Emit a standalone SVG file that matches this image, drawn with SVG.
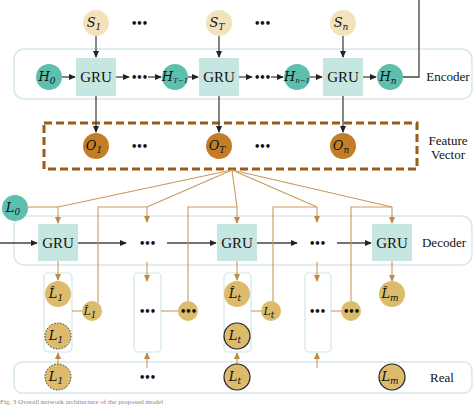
<svg xmlns="http://www.w3.org/2000/svg" width="474" height="406" viewBox="0 0 474 406">
<defs>
<marker id="ag" viewBox="0 0 8 8" refX="7" refY="4" markerWidth="7" markerHeight="7" markerUnits="userSpaceOnUse" orient="auto"><path d="M0,0.5 L8,4 L0,7.5 z" fill="#222"/></marker>
<marker id="ao" viewBox="0 0 8 8" refX="7" refY="4" markerWidth="7" markerHeight="7" markerUnits="userSpaceOnUse" orient="auto"><path d="M0,0.5 L8,4 L0,7.5 z" fill="#c08a45"/></marker>
</defs>
<style>
.panel{fill:none;stroke:#d6e9ea;stroke-width:1.5}
.col{fill:none;stroke:#cfe6e8;stroke-width:1.2}
.gru{fill:#c6e7e1}
.gt{font-family:"Liberation Serif",serif;font-size:15px;fill:#111;text-anchor:middle}
.lab{font-family:"Liberation Serif",serif;font-size:13px;fill:#111;text-anchor:middle}
.m{font-family:"DejaVu Serif",serif;font-style:italic;font-size:13px;fill:#111;text-anchor:middle}
.ms{font-family:"DejaVu Serif",serif;font-style:italic;font-size:11px;fill:#111;text-anchor:middle}
.sub{font-size:9px}
.dots{font-family:"DejaVu Sans",sans-serif;font-size:10px;font-weight:bold;fill:#111;text-anchor:middle;letter-spacing:-1px}
.s{fill:#f2e3bd}
.h{fill:#5dbfae}
.o{fill:#c27d26}
.l{fill:#dcbb6c}
.g{stroke:#444;stroke-width:1.3;fill:none}
.or{stroke:#c9995a;stroke-width:1.1;fill:none}
</style>
<rect width="474" height="406" fill="#fff"/>

<!-- panels -->
<g id="encoder-panel"><rect class="panel" x="14" y="49" width="458" height="50" rx="10"/><text class="lab" x="448" y="81">Encoder</text></g>
<g id="decoder-panel"><rect class="panel" x="14" y="216" width="458" height="49" rx="10"/><text class="lab" x="444" y="247">Decoder</text></g>
<g id="real-panel"><rect class="panel" x="14" y="362" width="458" height="31" rx="8"/><text class="lab" x="442" y="382">Real</text></g>
<g id="feature-vector"><rect x="44" y="123" width="373" height="46" fill="none" stroke="#9b5a16" stroke-width="3" stroke-dasharray="8,4"/><text class="lab" x="448" y="145">Feature</text><text class="lab" x="448" y="159">Vector</text></g>

<!-- columns -->
<g id="col1"><rect class="col" x="44" y="273" width="28" height="79" rx="4"/></g>
<g id="col2"><rect class="col" x="134" y="273" width="27" height="79" rx="4"/></g>
<g id="col3"><rect class="col" x="224" y="273" width="27" height="79" rx="4"/></g>
<g id="col4"><rect class="col" x="305" y="273" width="26" height="79" rx="4"/></g>

<!-- connectors -->
<g id="connectors">
<line class="g" x1="96" y1="36" x2="96" y2="57" marker-end="url(#ag)"/>
<line class="g" x1="219" y1="36" x2="219" y2="57" marker-end="url(#ag)"/>
<line class="g" x1="343" y1="36" x2="343" y2="57" marker-end="url(#ag)"/>
<line class="g" x1="62" y1="77" x2="75" y2="77" marker-end="url(#ag)"/>
<line class="g" x1="116" y1="77" x2="129" y2="77" marker-end="url(#ag)"/>
<line class="g" x1="148" y1="77" x2="161" y2="77" marker-end="url(#ag)"/>
<line class="g" x1="188" y1="77" x2="198" y2="77" marker-end="url(#ag)"/>
<line class="g" x1="239" y1="77" x2="252" y2="77" marker-end="url(#ag)"/>
<line class="g" x1="271" y1="77" x2="283" y2="77" marker-end="url(#ag)"/>
<line class="g" x1="310" y1="77" x2="322" y2="77" marker-end="url(#ag)"/>
<line class="g" x1="363" y1="77" x2="376" y2="77" marker-end="url(#ag)"/>
<polyline class="g" points="403,77 419,77 419,0"/>
<line class="g" x1="96" y1="96" x2="96" y2="132" marker-end="url(#ag)"/>
<line class="g" x1="219" y1="96" x2="219" y2="132" marker-end="url(#ag)"/>
<line class="g" x1="343" y1="96" x2="343" y2="132" marker-end="url(#ag)"/>

<line class="g" x1="0" y1="243" x2="37" y2="243" marker-end="url(#ag)"/>
<line class="g" x1="78" y1="243" x2="126" y2="243" marker-end="url(#ag)"/>
<line class="g" x1="167" y1="243" x2="216" y2="243" marker-end="url(#ag)"/>
<line class="g" x1="257" y1="243" x2="297" y2="243" marker-end="url(#ag)"/>
<line class="g" x1="337" y1="243" x2="371" y2="243" marker-end="url(#ag)"/>

<line class="or" x1="232" y1="170" x2="58" y2="207"/>
<line class="or" x1="232" y1="170" x2="147" y2="207"/>
<line class="or" x1="232" y1="170" x2="237" y2="207"/>
<line class="or" x1="232" y1="170" x2="317" y2="207"/>
<line class="or" x1="232" y1="170" x2="392" y2="207"/>
<line class="or" x1="28" y1="207" x2="58" y2="207"/>
<polyline class="or" points="98,303 98,207 147,207"/>
<polyline class="or" points="188,301 188,207 237,207"/>
<polyline class="or" points="273,303 273,207 317,207"/>
<polyline class="or" points="351,301 351,207 392,207"/>
<line class="or" x1="58" y1="207" x2="58" y2="223" marker-end="url(#ao)"/>
<line class="or" x1="147" y1="207" x2="147" y2="222" marker-end="url(#ao)"/>
<line class="or" x1="237" y1="207" x2="237" y2="223" marker-end="url(#ao)"/>
<line class="or" x1="317" y1="207" x2="317" y2="222" marker-end="url(#ao)"/>
<line class="or" x1="392" y1="207" x2="392" y2="223" marker-end="url(#ao)"/>

<line class="or" x1="58" y1="261" x2="58" y2="280" marker-end="url(#ao)"/>
<line class="or" x1="147" y1="262" x2="147" y2="281" marker-end="url(#ao)"/>
<line class="or" x1="237" y1="261" x2="237" y2="280" marker-end="url(#ao)"/>
<line class="or" x1="317" y1="262" x2="317" y2="281" marker-end="url(#ao)"/>
<line class="or" x1="392" y1="261" x2="392" y2="281" marker-end="url(#ao)"/>

<line class="or" x1="72" y1="311" x2="82" y2="311" stroke="#d9c49a"/>
<line class="or" x1="161" y1="311" x2="178" y2="311" stroke="#d9c49a"/>
<line class="or" x1="251" y1="311" x2="261" y2="311" stroke="#d9c49a"/>
<line class="or" x1="331" y1="311" x2="341" y2="311" stroke="#d9c49a"/>

<line class="or" x1="58" y1="364" x2="58" y2="353" marker-end="url(#ao)"/>
<line class="or" x1="147" y1="368" x2="147" y2="353" marker-end="url(#ao)"/>
<line class="or" x1="237" y1="364" x2="237" y2="353" marker-end="url(#ao)"/>
<line class="or" x1="317" y1="368" x2="317" y2="353" marker-end="url(#ao)"/>
</g>

<!-- encoder nodes -->
<g id="S1"><circle class="s" cx="96" cy="23" r="13"/><text class="m" x="94" y="27">S<tspan class="sub" dy="3">1</tspan></text></g>
<g id="SdotsA"><text class="dots" x="139" y="27">•••</text></g>
<g id="ST"><circle class="s" cx="219" cy="23" r="13"/><text class="m" x="217" y="27">S<tspan class="sub" dy="3">T</tspan></text></g>
<g id="SdotsB"><text class="dots" x="262" y="27">•••</text></g>
<g id="Sn"><circle class="s" cx="343" cy="23" r="13"/><text class="m" x="341" y="27">S<tspan class="sub" dy="3">n</tspan></text></g>

<g id="H0"><circle class="h" cx="49" cy="77" r="13"/><text class="m" x="47" y="81">H<tspan class="sub" dy="3">0</tspan></text></g>
<g id="GRU-e1"><rect class="gru" x="76" y="58" width="40" height="38"/><text class="gt" x="96" y="82">GRU</text></g>
<g id="EdotsA"><text class="dots" x="139" y="81">•••</text></g>
<g id="HT1"><circle class="h" cx="175" cy="77" r="13"/><text class="m" x="175" y="81" font-size="10">H<tspan font-size="7" dy="2">T−1</tspan></text></g>
<g id="GRU-e2"><rect class="gru" x="199" y="58" width="40" height="38"/><text class="gt" x="219" y="82">GRU</text></g>
<g id="EdotsB"><text class="dots" x="262" y="81">•••</text></g>
<g id="Hn1"><circle class="h" cx="297" cy="77" r="13"/><text class="m" x="297" y="81" font-size="10">H<tspan font-size="7" dy="2">n−1</tspan></text></g>
<g id="GRU-e3"><rect class="gru" x="323" y="58" width="40" height="38"/><text class="gt" x="343" y="82">GRU</text></g>
<g id="Hn"><circle class="h" cx="390" cy="77" r="13"/><text class="m" x="388" y="81">H<tspan class="sub" dy="3">n</tspan></text></g>

<!-- feature vector nodes -->
<g id="O1"><circle class="o" cx="96" cy="146" r="13"/><text class="m" x="94" y="150">O<tspan class="sub" dy="3">1</tspan></text></g>
<g id="OdotsA"><text class="dots" x="139" y="150">•••</text></g>
<g id="OT"><circle class="o" cx="219" cy="146" r="13"/><text class="m" x="217" y="150">O<tspan class="sub" dy="3">T</tspan></text></g>
<g id="OdotsB"><text class="dots" x="262" y="150">•••</text></g>
<g id="On"><circle class="o" cx="343" cy="146" r="13"/><text class="m" x="341" y="150">O<tspan class="sub" dy="3">n</tspan></text></g>

<!-- decoder nodes -->
<g id="L0"><circle class="h" cx="15" cy="208" r="13"/><text class="m" x="13" y="212">L<tspan class="sub" dy="3">0</tspan></text></g>
<g id="GRU-d1"><rect class="gru" x="38" y="224" width="40" height="37"/><text class="gt" x="58" y="248">GRU</text></g>
<g id="DdotsA"><text class="dots" x="147" y="247">•••</text></g>
<g id="GRU-d2"><rect class="gru" x="217" y="224" width="40" height="37"/><text class="gt" x="237" y="248">GRU</text></g>
<g id="DdotsB"><text class="dots" x="317" y="247">•••</text></g>
<g id="GRU-d3"><rect class="gru" x="372" y="224" width="40" height="37"/><text class="gt" x="392" y="248">GRU</text></g>

<g id="Lhat1"><circle class="l" cx="58" cy="294" r="13"/><text class="m" x="56" y="298">L̂<tspan class="sub" dy="3">1</tspan></text></g>
<g id="L1"><circle class="l" cx="58" cy="336" r="13" stroke="#333" stroke-width="1" stroke-dasharray="1.5,1.5"/><text class="m" x="56" y="340">L<tspan class="sub" dy="3">1</tspan></text></g>
<g id="Lhat1s"><circle class="l" cx="92" cy="311" r="10"/><text class="ms" x="90" y="315">L̂<tspan class="sub" dy="3">1</tspan></text></g>
<g id="C2dots"><text class="dots" x="147" y="315">•••</text></g>
<g id="C2s"><circle class="l" cx="188" cy="311" r="10"/><text class="dots" x="188" y="315">•••</text></g>
<g id="Lhatt"><circle class="l" cx="237" cy="294" r="13"/><text class="m" x="235" y="298">L̂<tspan class="sub" dy="3">t</tspan></text></g>
<g id="Lt"><circle class="l" cx="237" cy="336" r="13" stroke="#222" stroke-width="1.2"/><text class="m" x="235" y="340">L<tspan class="sub" dy="3">t</tspan></text></g>
<g id="Lts"><circle class="l" cx="271" cy="311" r="10"/><text class="ms" x="269" y="315">L<tspan class="sub" dy="3">t</tspan></text></g>
<g id="C4dots"><text class="dots" x="317" y="315">•••</text></g>
<g id="C4s"><circle class="l" cx="351" cy="311" r="10"/><text class="dots" x="351" y="315">•••</text></g>
<g id="Lhatm"><circle class="l" cx="392" cy="294" r="13"/><text class="m" x="390" y="298">L̂<tspan class="sub" dy="3">m</tspan></text></g>

<!-- real nodes -->
<g id="R1"><circle class="l" cx="58" cy="377" r="13" stroke="#333" stroke-width="1" stroke-dasharray="1.5,1.5"/><text class="m" x="56" y="381">L<tspan class="sub" dy="3">1</tspan></text></g>
<g id="Rdots"><text class="dots" x="147" y="381">•••</text></g>
<g id="Rt"><circle class="l" cx="237" cy="377" r="13" stroke="#222" stroke-width="1.2"/><text class="m" x="235" y="381">L<tspan class="sub" dy="3">t</tspan></text></g>
<g id="Rm"><circle class="l" cx="392" cy="377" r="13" stroke="#222" stroke-width="1.2"/><text class="m" x="390" y="381">L<tspan class="sub" dy="3">m</tspan></text></g>

<text x="0" y="404" font-family="Liberation Serif,serif" font-size="7" fill="#888">Fig. 3   Overall network architecture of the proposed model</text>
</svg>
